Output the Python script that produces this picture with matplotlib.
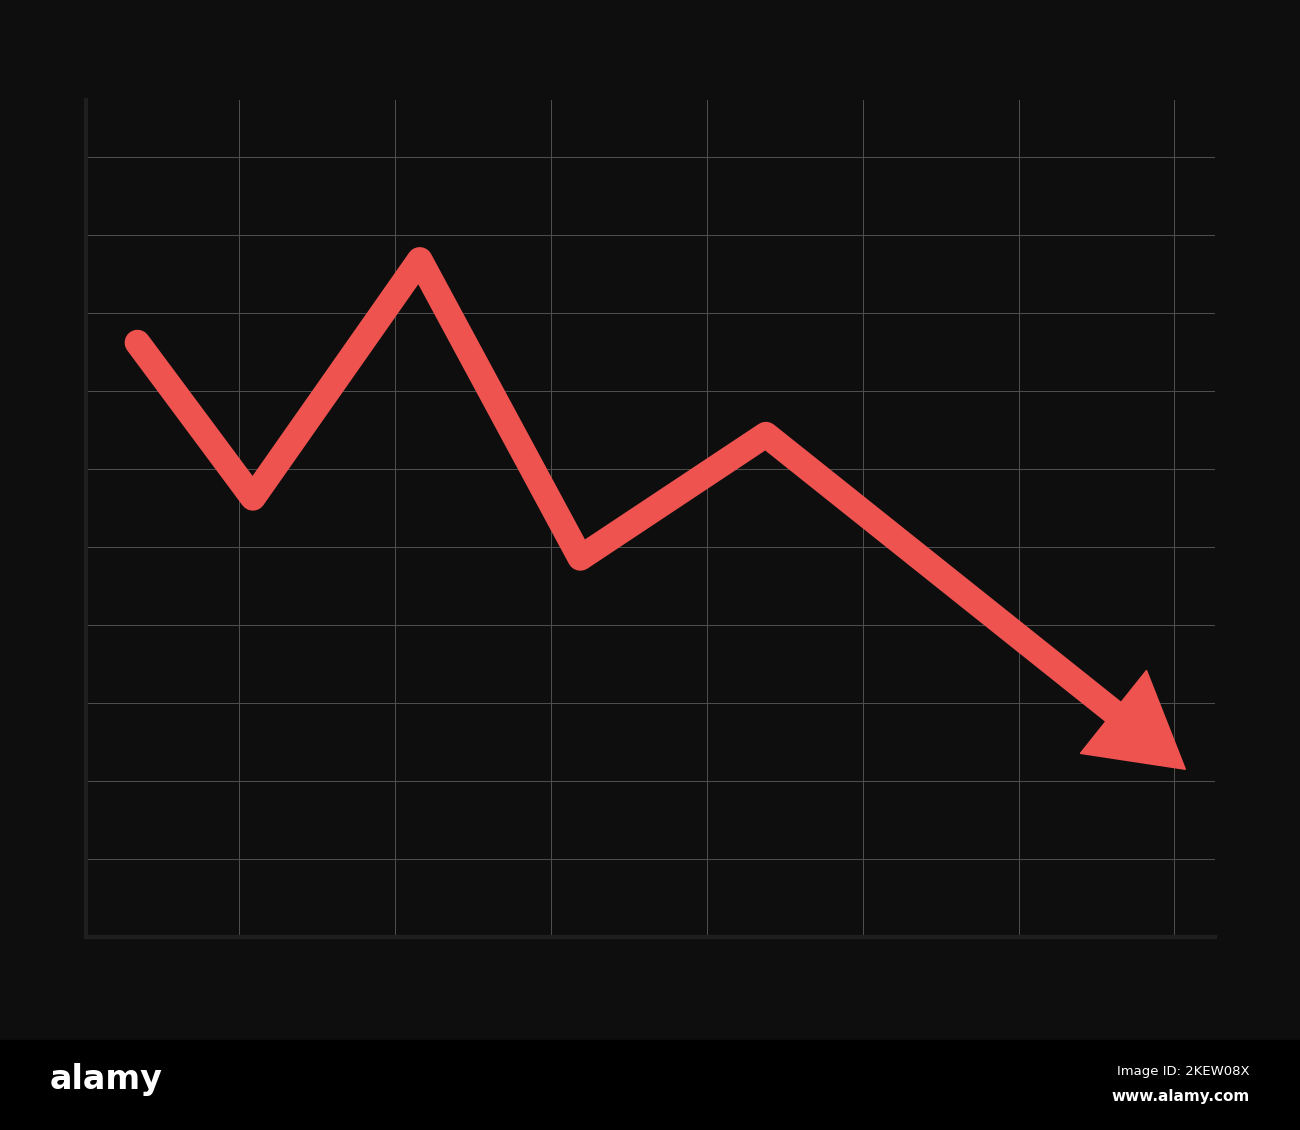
import numpy as np
import matplotlib.pyplot as plt
from matplotlib.patches import Polygon, Rectangle
from matplotlib.transforms import IdentityTransform

# trend values (grid units)
x_vals = [0.35, 1.09, 2.16, 3.19, 4.38, 7.07]
y_vals = [7.62, 5.63, 8.68, 4.86, 6.44, 2.15]
x_grid = [1, 2, 3, 4, 5, 6, 7]
y_grid = [1, 2, 3, 4, 5, 6, 7, 8, 9, 10]

bg = "#0e0e0e"
red = "#ef5350"

fig = plt.figure(figsize=(13, 11.3), dpi=100)
fig.patch.set_facecolor(bg)

ax = fig.add_axes([86 / 1300, 193 / 1130, 1129 / 1300, 837 / 1130])
ax.set_facecolor(bg)
ax.set_xlim(0.02, 7.26)
ax.set_ylim(0, 10.73)

# grid
for gx in x_grid:
    ax.axvline(gx, color="#505050", lw=0.7, zorder=1)
for gy in y_grid:
    ax.axhline(gy, color="#505050", lw=0.7, zorder=1)

for s in ["top", "right"]:
    ax.spines[s].set_visible(False)
for s in ["left", "bottom"]:
    ax.spines[s].set_color("#1f1f1f")
    ax.spines[s].set_linewidth(3)
ax.set_xticks([])
ax.set_yticks([])

# arrow head built in pixel space from the last segment
pts = ax.transData.transform(np.column_stack([x_vals, y_vals]))
tip, prev = pts[-1], pts[-2]
d = (tip - prev) / np.linalg.norm(tip - prev)
n = np.array([-d[1], d[0]])
head_len, head_w = 92, 106
base = tip - d * head_len
tri = np.array([tip, base + n * head_w / 2, base - n * head_w / 2])
ax.add_patch(Polygon(tri, closed=True, color=red, transform=IdentityTransform(), zorder=4))

base_data = ax.transData.inverted().transform(base + d * 5)
line_x = x_vals[:-1] + [base_data[0]]
line_y = y_vals[:-1] + [base_data[1]]
ax.plot(line_x, line_y, color=red, lw=18.5, solid_capstyle="round",
        solid_joinstyle="round", zorder=3)

# bottom band
fig.patches.append(Rectangle((0, 0), 1, 90 / 1130, transform=fig.transFigure,
                             color="#000000", zorder=0))
fig.text(50 / 1300, 1 - 1080 / 1130, "alamy", color="white", fontsize=24,
         fontweight="bold", va="center", ha="left")
fig.text(1250 / 1300, 1 - 1071 / 1130, "Image ID: 2KEW08X", color="white",
         fontsize=9.5, va="center", ha="right")
fig.text(1250 / 1300, 1 - 1096 / 1130, "www.alamy.com", color="white",
         fontsize=11, fontweight="bold", va="center", ha="right")

fig.savefig("out.png", dpi=100, facecolor=bg)
